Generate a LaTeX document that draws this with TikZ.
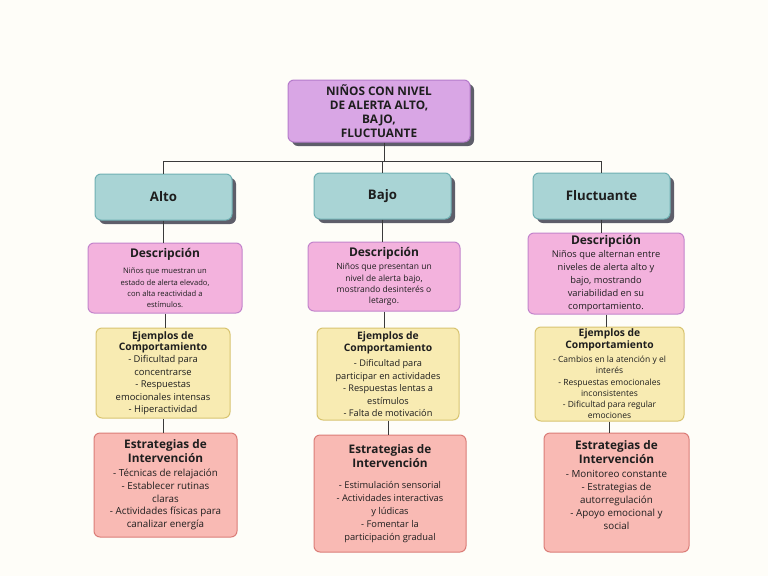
\documentclass[tikz,border=0pt]{standalone}
\usepackage{fontspec}
\setmainfont{Open Sans}
\usetikzlibrary{shadows}
\definecolor{bg}{HTML}{FEFDF8}
\definecolor{rootf}{HTML}{D9A6E5}
\definecolor{rootd}{HTML}{B57BCB}
\definecolor{tealf}{HTML}{A9D4D5}
\definecolor{teald}{HTML}{6FB0B3}
\definecolor{pinkf}{HTML}{F3B2DD}
\definecolor{pinkd}{HTML}{C384CC}
\definecolor{yelf}{HTML}{F8EBB2}
\definecolor{yeld}{HTML}{D8C470}
\definecolor{redf}{HTML}{F9BAB4}
\definecolor{redd}{HTML}{DB7D78}
\definecolor{shadc}{HTML}{5E5E6A}
\definecolor{txt}{HTML}{1E1E1E}
\definecolor{linec}{HTML}{3A3A3A}
\newcommand\hdL{\bfseries\fontsize{12}{13}\selectfont}
\newcommand\hdM{\bfseries\fontsize{10.3}{11}\selectfont}
\newcommand\hdS{\bfseries\fontsize{11.8}{14}\selectfont}
\newcommand\bdy[2]{\mdseries\fontsize{#1}{#2}\selectfont}
\begin{document}
\begin{tikzpicture}[x=1pt,y=1pt,
  box/.style={draw, rounded corners=6pt, line width=1pt, align=center, inner sep=2pt, text=txt},
  shad/.style={drop shadow={shadow xshift=4pt, shadow yshift=-4pt, fill=shadc, opacity=1}},
  rootbox/.style={box, shad, fill=rootf, draw=rootd, font=\bfseries\fontsize{11.8}{14}\selectfont},
  levbox/.style={box, shad, fill=tealf, draw=teald, font=\bfseries\fontsize{13.2}{15}\selectfont},
  descbox/.style={box, fill=pinkf, draw=pinkd},
  ejbox/.style={box, fill=yelf, draw=yeld},
  esbox/.style={box, fill=redf, draw=redd},
  conn/.style={draw=linec, line width=0.8pt}
]
\fill[bg] (0,0) rectangle (768,-576);
\useasboundingbox (0,0) rectangle (768,-576);

% root
\node[rootbox, minimum width=182pt, minimum height=62pt] (root) at (379,-111)
  {NIÑOS CON NIVEL\\DE ALERTA ALTO,\\BAJO,\\FLUCTUANTE};

% level 1
\node[levbox, minimum width=137pt, minimum height=46pt] (alto) at (163.5,-197) {Alto};
\node[levbox, minimum width=137pt, minimum height=46pt] (bajo) at (382.5,-196) {Bajo};
\node[levbox, minimum width=137pt, minimum height=46pt] (fluc) at (601.5,-196) {Fluctuante};

% descripcion
\node[descbox, minimum width=154pt, minimum height=70pt, font=\bdy{7.6}{11.2}] (descA) at (165,-278)
  {\hdL Descripción\\[5pt]Niños que muestran un\\estado de alerta elevado,\\con alta reactividad a\\estímulos.};
\node[descbox, minimum width=152pt, minimum height=69pt, font=\bdy{8.5}{11.3}] (descB) at (384,-276.5)
  {\hdL Descripción\\[2pt]Niños que presentan un\\nivel de alerta bajo,\\mostrando desinterés o\\letargo.};
\node[descbox, minimum width=156pt, minimum height=81pt, font=\bdy{9.3}{12.9}] (descF) at (606,-273.5)
  {\hdL Descripción\\Niños que alternan entre\\niveles de alerta alto y\\bajo, mostrando\\variabilidad en su\\comportamiento.};

% ejemplos
\node[ejbox, minimum width=134pt, minimum height=90pt, font=\bdy{9.4}{12.4}] (ejA) at (163,-373)
  {\hdM Ejemplos de\\[-1pt]\hdM Comportamiento\\{-} Dificultad para\\concentrarse\\{-} Respuestas\\emocionales intensas\\{-} Hiperactividad};
\node[ejbox, minimum width=142pt, minimum height=92pt, font=\bdy{9.2}{12.4}] (ejB) at (388,-374)
  {\hdM Ejemplos de\\[0pt]\hdM Comportamiento\\[3pt]{-} Dificultad para\\participar en actividades\\{-} Respuestas lentas a\\estímulos\\{-} Falta de motivación};
\node[ejbox, minimum width=149pt, minimum height=92pt, font=\bdy{8.5}{11.3}] (ejF) at (609.5,-374)
  {\hdM Ejemplos de\\\hdM Comportamiento\\[3pt]{-} Cambios en la atención y el\\interés\\{-} Respuestas emocionales\\inconsistentes\\{-} Dificultad para regular\\emociones};

% estrategias
\node[esbox, minimum width=143pt, minimum height=104pt, font=\bdy{9.8}{12.8}] (esA) at (165.5,-485)
  {\hdS Estrategias de\\[1pt]\hdS Intervención\\[1pt]{-} Técnicas de relajación\\{-} Establecer rutinas\\claras\\{-} Actividades físicas para\\canalizar energía};
\node[esbox, minimum width=152pt, minimum height=117pt, font=\bdy{9.3}{12.9}] (esB) at (390,-493.5)
  {\hdS Estrategias de\\[1pt]\hdS Intervención\\[8pt]{-} Estimulación sensorial\\{-} Actividades interactivas\\y lúdicas\\{-} Fomentar la\\participación gradual};
\node[esbox, minimum width=145pt, minimum height=119pt, font=\bdy{9.8}{12.9}] (esF) at (616.5,-492.5)
  {\hdS Estrategias de\\[1pt]\hdS Intervención\\[1pt]{-} Monitoreo constante\\{-} Estrategias de\\autorregulación\\{-} Apoyo emocional y\\social\\[2pt]};

% connectors
\coordinate (bus) at (384,-161);
\coordinate (rootout) at ([xshift=5pt]root.south);
\draw[conn] (rootout) -- (bus);
\draw[conn] (bus -| alto.north) -- (bus -| fluc.north);
\draw[conn] (bus -| alto.north) -- (alto.north);
\draw[conn] (bus -| bajo.north) -- (bajo.north);
\draw[conn] (bus -| fluc.north) -- (fluc.north);

\draw[conn] (alto.south) -- (alto.south |- descA.north);
\draw[conn] (bajo.south) -- (bajo.south |- descB.north);
\draw[conn] (fluc.south) -- (fluc.south |- descF.north);

\draw[conn] (descA.south) -- (descA.south |- ejA.north);
\draw[conn] (descB.south) -- (descB.south |- ejB.north);
\draw[conn] (descF.south) -- (descF.south |- ejF.north);

\draw[conn] (ejA.south) -- (ejA.south |- esA.north);
\draw[conn] (ejB.south) -- (ejB.south |- esB.north);
\draw[conn] (ejF.south) -- (ejF.south |- esF.north);
\end{tikzpicture}
\end{document}
